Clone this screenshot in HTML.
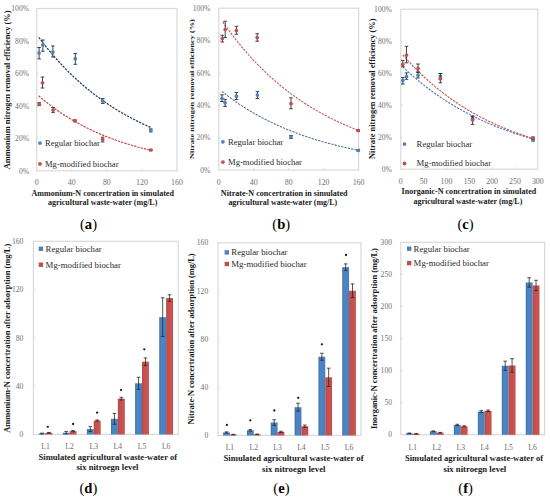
<!DOCTYPE html>
<html><head><meta charset="utf-8"><style>
html,body{margin:0;padding:0;background:#fff;width:550px;height:500px;overflow:hidden}
svg{display:block;font-family:"Liberation Serif", serif}
</style></head><body>
<svg width="550" height="500" viewBox="0 0 550 500">
<defs>
<linearGradient id="gb" x1="0" x2="1" y1="0" y2="0"><stop offset="0" stop-color="#3F6E9E"/><stop offset="0.25" stop-color="#4985C4"/><stop offset="0.75" stop-color="#4D83C2"/><stop offset="1" stop-color="#4A7CB8"/></linearGradient>
<linearGradient id="gr" x1="0" x2="1" y1="0" y2="0"><stop offset="0" stop-color="#B04846"/><stop offset="0.25" stop-color="#C4504D"/><stop offset="0.8" stop-color="#CC5350"/><stop offset="1" stop-color="#B84A48"/></linearGradient>
</defs>
<rect width="550" height="500" fill="#fff"/>
<rect x="36.70" y="8.50" width="140.30" height="162.30" fill="none" stroke="#D9D9D9" stroke-width="1.2"/>
<text x="29.00" y="173.50" font-size="7.6" text-anchor="end" font-weight="normal" fill="#6f6f6f">0%</text>
<text x="29.00" y="141.04" font-size="7.6" text-anchor="end" font-weight="normal" fill="#6f6f6f">20%</text>
<line x1="36.70" y1="138.34" x2="38.70" y2="138.34" stroke="#D9D9D9" stroke-width="0.8"/>
<text x="29.00" y="108.58" font-size="7.6" text-anchor="end" font-weight="normal" fill="#6f6f6f">40%</text>
<line x1="36.70" y1="105.88" x2="38.70" y2="105.88" stroke="#D9D9D9" stroke-width="0.8"/>
<text x="29.00" y="76.12" font-size="7.6" text-anchor="end" font-weight="normal" fill="#6f6f6f">60%</text>
<line x1="36.70" y1="73.42" x2="38.70" y2="73.42" stroke="#D9D9D9" stroke-width="0.8"/>
<text x="29.00" y="43.66" font-size="7.6" text-anchor="end" font-weight="normal" fill="#6f6f6f">80%</text>
<line x1="36.70" y1="40.96" x2="38.70" y2="40.96" stroke="#D9D9D9" stroke-width="0.8"/>
<text x="29.00" y="11.20" font-size="7.6" text-anchor="end" font-weight="normal" fill="#6f6f6f">100%</text>
<text x="36.70" y="184.60" font-size="7.9" text-anchor="middle" font-weight="normal" fill="#6f6f6f">0</text>
<text x="71.78" y="184.60" font-size="7.9" text-anchor="middle" font-weight="normal" fill="#6f6f6f">40</text>
<line x1="71.78" y1="170.80" x2="71.78" y2="168.80" stroke="#D9D9D9" stroke-width="0.8"/>
<text x="106.85" y="184.60" font-size="7.9" text-anchor="middle" font-weight="normal" fill="#6f6f6f">80</text>
<line x1="106.85" y1="170.80" x2="106.85" y2="168.80" stroke="#D9D9D9" stroke-width="0.8"/>
<text x="141.93" y="184.60" font-size="7.9" text-anchor="middle" font-weight="normal" fill="#6f6f6f">120</text>
<line x1="141.93" y1="170.80" x2="141.93" y2="168.80" stroke="#D9D9D9" stroke-width="0.8"/>
<text x="177.00" y="184.60" font-size="7.9" text-anchor="middle" font-weight="normal" fill="#6f6f6f">160</text>
<text transform="translate(10.20,89.90) rotate(-90)" x="0" y="0" font-size="8.4" text-anchor="middle" font-weight="bold" fill="#1a1a1a" textLength="158.7" lengthAdjust="spacingAndGlyphs">Ammonium nitrogen removal efficiency (%)</text>
<text x="102.70" y="195.70" font-size="7.9" text-anchor="middle" font-weight="bold" fill="#1a1a1a" textLength="142.4" lengthAdjust="spacingAndGlyphs">Ammonium-N concertration in simulated</text>
<text x="102.70" y="204.90" font-size="7.9" text-anchor="middle" font-weight="bold" fill="#1a1a1a" textLength="109.3" lengthAdjust="spacingAndGlyphs">agricultural waste-water (mg/L)</text>
<polyline points="38.80,37.38 40.67,39.86 42.53,42.29 44.40,44.67 46.27,47.02 48.13,49.31 50.00,51.57 51.87,53.78 53.73,55.95 55.60,58.08 57.47,60.18 59.33,62.23 61.20,64.24 63.07,66.22 64.93,68.16 66.80,70.07 68.67,71.94 70.53,73.77 72.40,75.57 74.27,77.34 76.13,79.07 78.00,80.78 79.87,82.45 81.73,84.09 83.60,85.70 85.47,87.27 87.33,88.83 89.20,90.35 91.07,91.84 92.93,93.30 94.80,94.74 96.67,96.15 98.53,97.54 100.40,98.90 102.27,100.23 104.13,101.54 106.00,102.83 107.87,104.09 109.73,105.33 111.60,106.54 113.47,107.74 115.33,108.91 117.20,110.06 119.07,111.18 120.93,112.29 122.80,113.37 124.67,114.44 126.53,115.49 128.40,116.51 130.27,117.52 132.13,118.51 134.00,119.48 135.87,120.43 137.73,121.37 139.60,122.28 141.47,123.18 143.33,124.07 145.20,124.94 147.07,125.79 148.93,126.62 150.80,127.44" fill="none" stroke="#1F3F6E" stroke-width="1.25" stroke-dasharray="2.3 1.1"/>
<polyline points="38.60,95.72 40.47,97.33 42.34,98.90 44.21,100.44 46.08,101.95 47.95,103.42 49.82,104.87 51.69,106.28 53.56,107.67 55.43,109.02 57.30,110.34 59.17,111.64 61.04,112.91 62.91,114.15 64.78,115.36 66.65,116.55 68.52,117.71 70.39,118.85 72.26,119.96 74.13,121.05 76.00,122.12 77.87,123.16 79.74,124.18 81.61,125.18 83.48,126.16 85.35,127.12 87.22,128.05 89.09,128.97 90.96,129.87 92.83,130.74 94.70,131.60 96.57,132.44 98.44,133.27 100.31,134.07 102.18,134.86 104.05,135.63 105.92,136.38 107.79,137.12 109.66,137.84 111.53,138.55 113.40,139.24 115.27,139.92 117.14,140.58 119.01,141.22 120.88,141.86 122.75,142.48 124.62,143.09 126.49,143.68 128.36,144.26 130.23,144.83 132.10,145.39 133.97,145.93 135.84,146.46 137.71,146.99 139.58,147.50 141.45,148.00 143.32,148.48 145.19,148.96 147.06,149.43 148.93,149.89 150.80,150.34" fill="none" stroke="#C0504D" stroke-width="1.25" stroke-dasharray="2.3 1.1"/>
<line x1="39.10" y1="47.50" x2="39.10" y2="58.90" stroke="#383838" stroke-width="0.95"/>
<line x1="37.30" y1="47.50" x2="40.90" y2="47.50" stroke="#383838" stroke-width="0.95"/>
<line x1="37.30" y1="58.90" x2="40.90" y2="58.90" stroke="#383838" stroke-width="0.95"/>
<line x1="42.80" y1="40.00" x2="42.80" y2="51.20" stroke="#383838" stroke-width="0.95"/>
<line x1="41.00" y1="40.00" x2="44.60" y2="40.00" stroke="#383838" stroke-width="0.95"/>
<line x1="41.00" y1="51.20" x2="44.60" y2="51.20" stroke="#383838" stroke-width="0.95"/>
<line x1="52.90" y1="46.00" x2="52.90" y2="57.00" stroke="#383838" stroke-width="0.95"/>
<line x1="51.10" y1="46.00" x2="54.70" y2="46.00" stroke="#383838" stroke-width="0.95"/>
<line x1="51.10" y1="57.00" x2="54.70" y2="57.00" stroke="#383838" stroke-width="0.95"/>
<line x1="75.30" y1="53.60" x2="75.30" y2="64.30" stroke="#383838" stroke-width="0.95"/>
<line x1="73.50" y1="53.60" x2="77.10" y2="53.60" stroke="#383838" stroke-width="0.95"/>
<line x1="73.50" y1="64.30" x2="77.10" y2="64.30" stroke="#383838" stroke-width="0.95"/>
<line x1="102.70" y1="98.60" x2="102.70" y2="103.40" stroke="#383838" stroke-width="0.95"/>
<line x1="100.90" y1="98.60" x2="104.50" y2="98.60" stroke="#383838" stroke-width="0.95"/>
<line x1="100.90" y1="103.40" x2="104.50" y2="103.40" stroke="#383838" stroke-width="0.95"/>
<line x1="150.80" y1="128.90" x2="150.80" y2="131.90" stroke="#383838" stroke-width="0.95"/>
<line x1="149.00" y1="128.90" x2="152.60" y2="128.90" stroke="#383838" stroke-width="0.95"/>
<line x1="149.00" y1="131.90" x2="152.60" y2="131.90" stroke="#383838" stroke-width="0.95"/>
<circle cx="39.10" cy="53.10" r="1.85" fill="#4F81BD"/>
<circle cx="42.80" cy="45.10" r="1.85" fill="#4F81BD"/>
<circle cx="52.90" cy="52.00" r="1.85" fill="#4F81BD"/>
<circle cx="75.30" cy="58.70" r="1.85" fill="#4F81BD"/>
<circle cx="102.70" cy="101.00" r="1.85" fill="#4F81BD"/>
<circle cx="150.80" cy="130.40" r="1.85" fill="#4F81BD"/>
<line x1="39.20" y1="102.60" x2="39.20" y2="105.60" stroke="#383838" stroke-width="0.95"/>
<line x1="37.40" y1="102.60" x2="41.00" y2="102.60" stroke="#383838" stroke-width="0.95"/>
<line x1="37.40" y1="105.60" x2="41.00" y2="105.60" stroke="#383838" stroke-width="0.95"/>
<line x1="42.50" y1="77.00" x2="42.50" y2="88.00" stroke="#383838" stroke-width="0.95"/>
<line x1="40.70" y1="77.00" x2="44.30" y2="77.00" stroke="#383838" stroke-width="0.95"/>
<line x1="40.70" y1="88.00" x2="44.30" y2="88.00" stroke="#383838" stroke-width="0.95"/>
<line x1="53.10" y1="107.50" x2="53.10" y2="112.40" stroke="#383838" stroke-width="0.95"/>
<line x1="51.30" y1="107.50" x2="54.90" y2="107.50" stroke="#383838" stroke-width="0.95"/>
<line x1="51.30" y1="112.40" x2="54.90" y2="112.40" stroke="#383838" stroke-width="0.95"/>
<line x1="75.00" y1="119.90" x2="75.00" y2="121.70" stroke="#383838" stroke-width="0.95"/>
<line x1="73.20" y1="119.90" x2="76.80" y2="119.90" stroke="#383838" stroke-width="0.95"/>
<line x1="73.20" y1="121.70" x2="76.80" y2="121.70" stroke="#383838" stroke-width="0.95"/>
<line x1="102.70" y1="137.20" x2="102.70" y2="142.00" stroke="#383838" stroke-width="0.95"/>
<line x1="100.90" y1="137.20" x2="104.50" y2="137.20" stroke="#383838" stroke-width="0.95"/>
<line x1="100.90" y1="142.00" x2="104.50" y2="142.00" stroke="#383838" stroke-width="0.95"/>
<line x1="150.80" y1="149.40" x2="150.80" y2="150.60" stroke="#383838" stroke-width="0.95"/>
<line x1="149.00" y1="149.40" x2="152.60" y2="149.40" stroke="#383838" stroke-width="0.95"/>
<line x1="149.00" y1="150.60" x2="152.60" y2="150.60" stroke="#383838" stroke-width="0.95"/>
<circle cx="39.20" cy="104.10" r="1.85" fill="#C0504D"/>
<circle cx="42.50" cy="82.80" r="1.85" fill="#C0504D"/>
<circle cx="53.10" cy="110.00" r="1.85" fill="#C0504D"/>
<circle cx="75.00" cy="120.80" r="1.85" fill="#C0504D"/>
<circle cx="102.70" cy="139.60" r="1.85" fill="#C0504D"/>
<circle cx="150.80" cy="150.00" r="1.85" fill="#C0504D"/>
<circle cx="40.00" cy="143.10" r="1.9" fill="#4F81BD"/>
<circle cx="40.00" cy="163.90" r="1.9" fill="#C0504D"/>
<text x="45.00" y="146.00" font-size="8.6" text-anchor="start" font-weight="normal" fill="#2a2a2a" textLength="54.8" lengthAdjust="spacingAndGlyphs">Regular biochar</text>
<text x="45.00" y="166.80" font-size="8.6" text-anchor="start" font-weight="normal" fill="#2a2a2a" textLength="73.5" lengthAdjust="spacingAndGlyphs">Mg-modified biochar</text>
<text x="88.50" y="228.70" font-size="14.6" text-anchor="middle" fill="#000">(<tspan font-weight="bold">a</tspan>)</text>
<rect x="218.80" y="8.20" width="139.80" height="161.80" fill="none" stroke="#D9D9D9" stroke-width="1.2"/>
<text x="210.40" y="172.70" font-size="7.6" text-anchor="end" font-weight="normal" fill="#6f6f6f">0%</text>
<text x="210.40" y="140.34" font-size="7.6" text-anchor="end" font-weight="normal" fill="#6f6f6f">20%</text>
<line x1="218.80" y1="137.64" x2="220.80" y2="137.64" stroke="#D9D9D9" stroke-width="0.8"/>
<text x="210.40" y="107.98" font-size="7.6" text-anchor="end" font-weight="normal" fill="#6f6f6f">40%</text>
<line x1="218.80" y1="105.28" x2="220.80" y2="105.28" stroke="#D9D9D9" stroke-width="0.8"/>
<text x="210.40" y="75.62" font-size="7.6" text-anchor="end" font-weight="normal" fill="#6f6f6f">60%</text>
<line x1="218.80" y1="72.92" x2="220.80" y2="72.92" stroke="#D9D9D9" stroke-width="0.8"/>
<text x="210.40" y="43.26" font-size="7.6" text-anchor="end" font-weight="normal" fill="#6f6f6f">80%</text>
<line x1="218.80" y1="40.56" x2="220.80" y2="40.56" stroke="#D9D9D9" stroke-width="0.8"/>
<text x="210.40" y="10.90" font-size="7.6" text-anchor="end" font-weight="normal" fill="#6f6f6f">100%</text>
<text x="218.80" y="184.60" font-size="7.9" text-anchor="middle" font-weight="normal" fill="#6f6f6f">0</text>
<text x="253.75" y="184.60" font-size="7.9" text-anchor="middle" font-weight="normal" fill="#6f6f6f">40</text>
<line x1="253.75" y1="170.00" x2="253.75" y2="168.00" stroke="#D9D9D9" stroke-width="0.8"/>
<text x="288.70" y="184.60" font-size="7.9" text-anchor="middle" font-weight="normal" fill="#6f6f6f">80</text>
<line x1="288.70" y1="170.00" x2="288.70" y2="168.00" stroke="#D9D9D9" stroke-width="0.8"/>
<text x="323.65" y="184.60" font-size="7.9" text-anchor="middle" font-weight="normal" fill="#6f6f6f">120</text>
<line x1="323.65" y1="170.00" x2="323.65" y2="168.00" stroke="#D9D9D9" stroke-width="0.8"/>
<text x="358.60" y="184.60" font-size="7.9" text-anchor="middle" font-weight="normal" fill="#6f6f6f">160</text>
<text transform="translate(193.70,89.10) rotate(-90)" x="0" y="0" font-size="6.7" text-anchor="middle" font-weight="bold" fill="#1a1a1a" textLength="140.0" lengthAdjust="spacingAndGlyphs">Nitrate nitrogen removal efficiency (%)</text>
<text x="284.20" y="195.60" font-size="7.9" text-anchor="middle" font-weight="bold" fill="#1a1a1a" textLength="126.7" lengthAdjust="spacingAndGlyphs">Nitrate-N concertration in simulated</text>
<text x="282.80" y="205.00" font-size="7.9" text-anchor="middle" font-weight="bold" fill="#1a1a1a" textLength="108.8" lengthAdjust="spacingAndGlyphs">agricultural waste-water (mg/L)</text>
<polyline points="221.80,91.37 224.07,93.16 226.35,94.91 228.62,96.62 230.89,98.29 233.17,99.92 235.44,101.51 237.71,103.07 239.99,104.60 242.26,106.09 244.53,107.54 246.81,108.96 249.08,110.35 251.35,111.71 253.63,113.04 255.90,114.33 258.17,115.60 260.45,116.84 262.72,118.05 264.99,119.23 267.27,120.39 269.54,121.52 271.81,122.62 274.09,123.70 276.36,124.75 278.63,125.78 280.91,126.79 283.18,127.77 285.45,128.73 287.73,129.67 290.00,130.59 292.27,131.49 294.55,132.36 296.82,133.22 299.09,134.06 301.37,134.88 303.64,135.68 305.91,136.46 308.19,137.22 310.46,137.97 312.73,138.70 315.01,139.41 317.28,140.11 319.55,140.79 321.83,141.45 324.10,142.10 326.37,142.74 328.65,143.36 330.92,143.96 333.19,144.56 335.47,145.13 337.74,145.70 340.01,146.25 342.29,146.79 344.56,147.32 346.83,147.84 349.11,148.34 351.38,148.84 353.65,149.32 355.93,149.79 358.20,150.25" fill="none" stroke="#54739A" stroke-width="1.1" stroke-dasharray="2.3 1.1"/>
<polyline points="222.80,21.93 225.06,25.14 227.31,28.29 229.57,31.36 231.83,34.37 234.08,37.32 236.34,40.20 238.60,43.02 240.85,45.78 243.11,48.47 245.37,51.11 247.62,53.69 249.88,56.22 252.14,58.69 254.39,61.11 256.65,63.47 258.91,65.78 261.16,68.05 263.42,70.26 265.68,72.43 267.93,74.55 270.19,76.62 272.45,78.65 274.70,80.63 276.96,82.57 279.22,84.47 281.47,86.33 283.73,88.14 285.99,89.92 288.24,91.66 290.50,93.36 292.76,95.02 295.01,96.65 297.27,98.24 299.53,99.80 301.78,101.33 304.04,102.82 306.30,104.28 308.55,105.70 310.81,107.10 313.07,108.47 315.32,109.80 317.58,111.11 319.84,112.39 322.09,113.64 324.35,114.86 326.61,116.06 328.86,117.23 331.12,118.38 333.38,119.50 335.63,120.59 337.89,121.67 340.15,122.72 342.40,123.74 344.66,124.75 346.92,125.73 349.17,126.69 351.43,127.63 353.69,128.55 355.94,129.45 358.20,130.33" fill="none" stroke="#C05A5A" stroke-width="1.1" stroke-dasharray="2.3 1.1"/>
<line x1="222.00" y1="94.80" x2="222.00" y2="101.50" stroke="#383838" stroke-width="0.95"/>
<line x1="220.20" y1="94.80" x2="223.80" y2="94.80" stroke="#383838" stroke-width="0.95"/>
<line x1="220.20" y1="101.50" x2="223.80" y2="101.50" stroke="#383838" stroke-width="0.95"/>
<line x1="225.10" y1="99.30" x2="225.10" y2="106.40" stroke="#383838" stroke-width="0.95"/>
<line x1="223.30" y1="99.30" x2="226.90" y2="99.30" stroke="#383838" stroke-width="0.95"/>
<line x1="223.30" y1="106.40" x2="226.90" y2="106.40" stroke="#383838" stroke-width="0.95"/>
<line x1="236.40" y1="92.50" x2="236.40" y2="99.50" stroke="#383838" stroke-width="0.95"/>
<line x1="234.60" y1="92.50" x2="238.20" y2="92.50" stroke="#383838" stroke-width="0.95"/>
<line x1="234.60" y1="99.50" x2="238.20" y2="99.50" stroke="#383838" stroke-width="0.95"/>
<line x1="257.40" y1="91.60" x2="257.40" y2="98.50" stroke="#383838" stroke-width="0.95"/>
<line x1="255.60" y1="91.60" x2="259.20" y2="91.60" stroke="#383838" stroke-width="0.95"/>
<line x1="255.60" y1="98.50" x2="259.20" y2="98.50" stroke="#383838" stroke-width="0.95"/>
<line x1="291.00" y1="135.50" x2="291.00" y2="138.50" stroke="#383838" stroke-width="0.95"/>
<line x1="289.20" y1="135.50" x2="292.80" y2="135.50" stroke="#383838" stroke-width="0.95"/>
<line x1="289.20" y1="138.50" x2="292.80" y2="138.50" stroke="#383838" stroke-width="0.95"/>
<line x1="358.20" y1="149.60" x2="358.20" y2="151.00" stroke="#383838" stroke-width="0.95"/>
<line x1="356.40" y1="149.60" x2="360.00" y2="149.60" stroke="#383838" stroke-width="0.95"/>
<line x1="356.40" y1="151.00" x2="360.00" y2="151.00" stroke="#383838" stroke-width="0.95"/>
<circle cx="222.00" cy="98.50" r="1.85" fill="#4F81BD"/>
<circle cx="225.10" cy="102.80" r="1.85" fill="#4F81BD"/>
<circle cx="236.40" cy="96.20" r="1.85" fill="#4F81BD"/>
<circle cx="257.40" cy="95.10" r="1.85" fill="#4F81BD"/>
<circle cx="291.00" cy="137.00" r="1.85" fill="#4F81BD"/>
<circle cx="358.20" cy="150.30" r="1.85" fill="#4F81BD"/>
<line x1="222.30" y1="35.30" x2="222.30" y2="42.00" stroke="#383838" stroke-width="0.95"/>
<line x1="220.50" y1="35.30" x2="224.10" y2="35.30" stroke="#383838" stroke-width="0.95"/>
<line x1="220.50" y1="42.00" x2="224.10" y2="42.00" stroke="#383838" stroke-width="0.95"/>
<line x1="225.20" y1="21.20" x2="225.20" y2="37.50" stroke="#383838" stroke-width="0.95"/>
<line x1="223.40" y1="21.20" x2="227.00" y2="21.20" stroke="#383838" stroke-width="0.95"/>
<line x1="223.40" y1="37.50" x2="227.00" y2="37.50" stroke="#383838" stroke-width="0.95"/>
<line x1="236.40" y1="26.30" x2="236.40" y2="34.30" stroke="#383838" stroke-width="0.95"/>
<line x1="234.60" y1="26.30" x2="238.20" y2="26.30" stroke="#383838" stroke-width="0.95"/>
<line x1="234.60" y1="34.30" x2="238.20" y2="34.30" stroke="#383838" stroke-width="0.95"/>
<line x1="257.20" y1="33.70" x2="257.20" y2="41.20" stroke="#383838" stroke-width="0.95"/>
<line x1="255.40" y1="33.70" x2="259.00" y2="33.70" stroke="#383838" stroke-width="0.95"/>
<line x1="255.40" y1="41.20" x2="259.00" y2="41.20" stroke="#383838" stroke-width="0.95"/>
<line x1="291.00" y1="97.90" x2="291.00" y2="108.70" stroke="#383838" stroke-width="0.95"/>
<line x1="289.20" y1="97.90" x2="292.80" y2="97.90" stroke="#383838" stroke-width="0.95"/>
<line x1="289.20" y1="108.70" x2="292.80" y2="108.70" stroke="#383838" stroke-width="0.95"/>
<line x1="358.20" y1="129.80" x2="358.20" y2="131.40" stroke="#383838" stroke-width="0.95"/>
<line x1="356.40" y1="129.80" x2="360.00" y2="129.80" stroke="#383838" stroke-width="0.95"/>
<line x1="356.40" y1="131.40" x2="360.00" y2="131.40" stroke="#383838" stroke-width="0.95"/>
<circle cx="222.30" cy="38.50" r="1.85" fill="#C0504D"/>
<circle cx="225.20" cy="29.50" r="1.85" fill="#C0504D"/>
<circle cx="236.40" cy="30.50" r="1.85" fill="#C0504D"/>
<circle cx="257.20" cy="37.50" r="1.85" fill="#C0504D"/>
<circle cx="291.00" cy="103.70" r="1.85" fill="#C0504D"/>
<circle cx="358.20" cy="130.60" r="1.85" fill="#C0504D"/>
<circle cx="222.90" cy="141.80" r="1.9" fill="#4F81BD"/>
<circle cx="222.90" cy="162.10" r="1.9" fill="#C0504D"/>
<text x="228.00" y="144.70" font-size="8.6" text-anchor="start" font-weight="normal" fill="#2a2a2a" textLength="55.2" lengthAdjust="spacingAndGlyphs">Regular biochar</text>
<text x="228.00" y="165.00" font-size="8.6" text-anchor="start" font-weight="normal" fill="#2a2a2a" textLength="74.0" lengthAdjust="spacingAndGlyphs">Mg-modified biochar</text>
<text x="281.30" y="229.00" font-size="14.6" text-anchor="middle" fill="#000">(<tspan font-weight="bold">b</tspan>)</text>
<rect x="400.80" y="9.20" width="137.00" height="160.00" fill="none" stroke="#D9D9D9" stroke-width="1.2"/>
<text x="391.80" y="171.90" font-size="7.6" text-anchor="end" font-weight="normal" fill="#6f6f6f">0%</text>
<text x="391.80" y="139.90" font-size="7.6" text-anchor="end" font-weight="normal" fill="#6f6f6f">20%</text>
<line x1="400.80" y1="137.20" x2="402.80" y2="137.20" stroke="#D9D9D9" stroke-width="0.8"/>
<text x="391.80" y="107.90" font-size="7.6" text-anchor="end" font-weight="normal" fill="#6f6f6f">40%</text>
<line x1="400.80" y1="105.20" x2="402.80" y2="105.20" stroke="#D9D9D9" stroke-width="0.8"/>
<text x="391.80" y="75.90" font-size="7.6" text-anchor="end" font-weight="normal" fill="#6f6f6f">60%</text>
<line x1="400.80" y1="73.20" x2="402.80" y2="73.20" stroke="#D9D9D9" stroke-width="0.8"/>
<text x="391.80" y="43.90" font-size="7.6" text-anchor="end" font-weight="normal" fill="#6f6f6f">80%</text>
<line x1="400.80" y1="41.20" x2="402.80" y2="41.20" stroke="#D9D9D9" stroke-width="0.8"/>
<text x="391.80" y="11.90" font-size="7.6" text-anchor="end" font-weight="normal" fill="#6f6f6f">100%</text>
<text x="400.80" y="183.80" font-size="7.9" text-anchor="middle" font-weight="normal" fill="#6f6f6f">0</text>
<text x="423.63" y="183.80" font-size="7.9" text-anchor="middle" font-weight="normal" fill="#6f6f6f">50</text>
<line x1="423.63" y1="169.20" x2="423.63" y2="167.20" stroke="#D9D9D9" stroke-width="0.8"/>
<text x="446.47" y="183.80" font-size="7.9" text-anchor="middle" font-weight="normal" fill="#6f6f6f">100</text>
<line x1="446.47" y1="169.20" x2="446.47" y2="167.20" stroke="#D9D9D9" stroke-width="0.8"/>
<text x="469.30" y="183.80" font-size="7.9" text-anchor="middle" font-weight="normal" fill="#6f6f6f">150</text>
<line x1="469.30" y1="169.20" x2="469.30" y2="167.20" stroke="#D9D9D9" stroke-width="0.8"/>
<text x="492.13" y="183.80" font-size="7.9" text-anchor="middle" font-weight="normal" fill="#6f6f6f">200</text>
<line x1="492.13" y1="169.20" x2="492.13" y2="167.20" stroke="#D9D9D9" stroke-width="0.8"/>
<text x="514.97" y="183.80" font-size="7.9" text-anchor="middle" font-weight="normal" fill="#6f6f6f">250</text>
<line x1="514.97" y1="169.20" x2="514.97" y2="167.20" stroke="#D9D9D9" stroke-width="0.8"/>
<text x="537.80" y="183.80" font-size="7.9" text-anchor="middle" font-weight="normal" fill="#6f6f6f">300</text>
<text transform="translate(374.50,88.80) rotate(-90)" x="0" y="0" font-size="8.4" text-anchor="middle" font-weight="bold" fill="#1a1a1a" textLength="140.4" lengthAdjust="spacingAndGlyphs">Nitrate nitrogen removal efficiency (%)</text>
<text x="468.90" y="194.20" font-size="7.9" text-anchor="middle" font-weight="bold" fill="#1a1a1a" textLength="134.7" lengthAdjust="spacingAndGlyphs">Inorganic-N concertration in simulated</text>
<text x="467.90" y="203.70" font-size="7.9" text-anchor="middle" font-weight="bold" fill="#1a1a1a" textLength="108.8" lengthAdjust="spacingAndGlyphs">agricultural waste-water (mg/L)</text>
<polyline points="402.80,66.79 404.97,68.85 407.14,70.87 409.31,72.85 411.48,74.79 413.65,76.69 415.82,78.56 417.99,80.38 420.16,82.17 422.33,83.92 424.50,85.64 426.67,87.32 428.84,88.97 431.01,90.58 433.18,92.17 435.35,93.72 437.52,95.24 439.69,96.73 441.86,98.18 444.03,99.61 446.20,101.02 448.37,102.39 450.54,103.73 452.71,105.05 454.88,106.34 457.05,107.61 459.22,108.85 461.39,110.06 463.56,111.25 465.73,112.42 467.90,113.56 470.07,114.68 472.24,115.78 474.41,116.86 476.58,117.91 478.75,118.94 480.92,119.95 483.09,120.95 485.26,121.92 487.43,122.87 489.60,123.80 491.77,124.72 493.94,125.61 496.11,126.49 498.28,127.35 500.45,128.19 502.62,129.02 504.79,129.83 506.96,130.62 509.13,131.40 511.30,132.16 513.47,132.90 515.64,133.63 517.81,134.35 519.98,135.05 522.15,135.74 524.32,136.41 526.49,137.07 528.66,137.72 530.83,138.35 533.00,138.97" fill="none" stroke="#5580B8" stroke-width="1.15" stroke-dasharray="2.3 1.1"/>
<polyline points="402.80,54.79 404.97,57.27 407.14,59.69 409.31,62.07 411.48,64.39 413.65,66.66 415.82,68.88 417.99,71.05 420.16,73.18 422.33,75.26 424.50,77.30 426.67,79.29 428.84,81.24 431.01,83.14 433.18,85.01 435.35,86.83 437.52,88.62 439.69,90.36 441.86,92.07 444.03,93.74 446.20,95.38 448.37,96.98 450.54,98.54 452.71,100.07 454.88,101.57 457.05,103.04 459.22,104.47 461.39,105.87 463.56,107.24 465.73,108.59 467.90,109.90 470.07,111.18 472.24,112.44 474.41,113.67 476.58,114.87 478.75,116.05 480.92,117.20 483.09,118.33 485.26,119.43 487.43,120.51 489.60,121.57 491.77,122.60 493.94,123.61 496.11,124.60 498.28,125.56 500.45,126.51 502.62,127.43 504.79,128.34 506.96,129.22 509.13,130.09 511.30,130.94 513.47,131.77 515.64,132.58 517.81,133.37 519.98,134.15 522.15,134.91 524.32,135.65 526.49,136.38 528.66,137.09 530.83,137.78 533.00,138.46" fill="none" stroke="#C45858" stroke-width="1.15" stroke-dasharray="2.3 1.1"/>
<line x1="402.80" y1="77.50" x2="402.80" y2="84.00" stroke="#383838" stroke-width="0.95"/>
<line x1="401.00" y1="77.50" x2="404.60" y2="77.50" stroke="#383838" stroke-width="0.95"/>
<line x1="401.00" y1="84.00" x2="404.60" y2="84.00" stroke="#383838" stroke-width="0.95"/>
<line x1="406.50" y1="72.90" x2="406.50" y2="79.30" stroke="#383838" stroke-width="0.95"/>
<line x1="404.70" y1="72.90" x2="408.30" y2="72.90" stroke="#383838" stroke-width="0.95"/>
<line x1="404.70" y1="79.30" x2="408.30" y2="79.30" stroke="#383838" stroke-width="0.95"/>
<line x1="418.00" y1="72.40" x2="418.00" y2="78.00" stroke="#383838" stroke-width="0.95"/>
<line x1="416.20" y1="72.40" x2="419.80" y2="72.40" stroke="#383838" stroke-width="0.95"/>
<line x1="416.20" y1="78.00" x2="419.80" y2="78.00" stroke="#383838" stroke-width="0.95"/>
<line x1="440.40" y1="73.50" x2="440.40" y2="79.00" stroke="#383838" stroke-width="0.95"/>
<line x1="438.60" y1="73.50" x2="442.20" y2="73.50" stroke="#383838" stroke-width="0.95"/>
<line x1="438.60" y1="79.00" x2="442.20" y2="79.00" stroke="#383838" stroke-width="0.95"/>
<line x1="472.60" y1="116.50" x2="472.60" y2="119.50" stroke="#383838" stroke-width="0.95"/>
<line x1="470.80" y1="116.50" x2="474.40" y2="116.50" stroke="#383838" stroke-width="0.95"/>
<line x1="470.80" y1="119.50" x2="474.40" y2="119.50" stroke="#383838" stroke-width="0.95"/>
<line x1="533.00" y1="139.00" x2="533.00" y2="141.00" stroke="#383838" stroke-width="0.95"/>
<line x1="531.20" y1="139.00" x2="534.80" y2="139.00" stroke="#383838" stroke-width="0.95"/>
<line x1="531.20" y1="141.00" x2="534.80" y2="141.00" stroke="#383838" stroke-width="0.95"/>
<circle cx="402.80" cy="80.40" r="1.85" fill="#4F81BD"/>
<circle cx="406.50" cy="76.40" r="1.85" fill="#4F81BD"/>
<circle cx="418.00" cy="75.30" r="1.85" fill="#4F81BD"/>
<circle cx="440.40" cy="76.40" r="1.85" fill="#4F81BD"/>
<circle cx="472.60" cy="118.00" r="1.85" fill="#4F81BD"/>
<circle cx="533.00" cy="140.00" r="1.85" fill="#4F81BD"/>
<line x1="402.80" y1="60.40" x2="402.80" y2="66.80" stroke="#383838" stroke-width="0.95"/>
<line x1="401.00" y1="60.40" x2="404.60" y2="60.40" stroke="#383838" stroke-width="0.95"/>
<line x1="401.00" y1="66.80" x2="404.60" y2="66.80" stroke="#383838" stroke-width="0.95"/>
<line x1="406.50" y1="46.30" x2="406.50" y2="62.80" stroke="#383838" stroke-width="0.95"/>
<line x1="404.70" y1="46.30" x2="408.30" y2="46.30" stroke="#383838" stroke-width="0.95"/>
<line x1="404.70" y1="62.80" x2="408.30" y2="62.80" stroke="#383838" stroke-width="0.95"/>
<line x1="418.00" y1="64.00" x2="418.00" y2="72.00" stroke="#383838" stroke-width="0.95"/>
<line x1="416.20" y1="64.00" x2="419.80" y2="64.00" stroke="#383838" stroke-width="0.95"/>
<line x1="416.20" y1="72.00" x2="419.80" y2="72.00" stroke="#383838" stroke-width="0.95"/>
<line x1="440.40" y1="73.50" x2="440.40" y2="82.80" stroke="#383838" stroke-width="0.95"/>
<line x1="438.60" y1="73.50" x2="442.20" y2="73.50" stroke="#383838" stroke-width="0.95"/>
<line x1="438.60" y1="82.80" x2="442.20" y2="82.80" stroke="#383838" stroke-width="0.95"/>
<line x1="472.60" y1="116.00" x2="472.60" y2="124.40" stroke="#383838" stroke-width="0.95"/>
<line x1="470.80" y1="116.00" x2="474.40" y2="116.00" stroke="#383838" stroke-width="0.95"/>
<line x1="470.80" y1="124.40" x2="474.40" y2="124.40" stroke="#383838" stroke-width="0.95"/>
<line x1="533.00" y1="137.00" x2="533.00" y2="139.00" stroke="#383838" stroke-width="0.95"/>
<line x1="531.20" y1="137.00" x2="534.80" y2="137.00" stroke="#383838" stroke-width="0.95"/>
<line x1="531.20" y1="139.00" x2="534.80" y2="139.00" stroke="#383838" stroke-width="0.95"/>
<circle cx="402.80" cy="64.40" r="1.85" fill="#C0504D"/>
<circle cx="406.50" cy="55.10" r="1.85" fill="#C0504D"/>
<circle cx="418.00" cy="68.40" r="1.85" fill="#C0504D"/>
<circle cx="440.40" cy="78.80" r="1.85" fill="#C0504D"/>
<circle cx="472.60" cy="120.00" r="1.85" fill="#C0504D"/>
<circle cx="533.00" cy="138.00" r="1.85" fill="#C0504D"/>
<circle cx="404.50" cy="144.10" r="1.9" fill="#4F81BD"/>
<circle cx="404.50" cy="163.50" r="1.9" fill="#C0504D"/>
<text x="416.60" y="147.00" font-size="8.6" text-anchor="start" font-weight="normal" fill="#2a2a2a" textLength="55.6" lengthAdjust="spacingAndGlyphs">Regular biochar</text>
<text x="416.60" y="166.40" font-size="8.6" text-anchor="start" font-weight="normal" fill="#2a2a2a" textLength="74.5" lengthAdjust="spacingAndGlyphs">Mg-modified biochar</text>
<text x="465.50" y="229.00" font-size="14.6" text-anchor="middle" fill="#000">(<tspan font-weight="bold">c</tspan>)</text>
<rect x="33.40" y="241.30" width="144.80" height="193.20" fill="none" stroke="#D9D9D9" stroke-width="1.2"/>
<text x="23.40" y="437.10" font-size="7.6" text-anchor="end" font-weight="normal" fill="#6f6f6f">0</text>
<text x="23.40" y="388.80" font-size="7.6" text-anchor="end" font-weight="normal" fill="#6f6f6f">40</text>
<line x1="33.40" y1="386.20" x2="35.40" y2="386.20" stroke="#D9D9D9" stroke-width="0.8"/>
<text x="23.40" y="340.50" font-size="7.6" text-anchor="end" font-weight="normal" fill="#6f6f6f">80</text>
<line x1="33.40" y1="337.90" x2="35.40" y2="337.90" stroke="#D9D9D9" stroke-width="0.8"/>
<text x="23.40" y="292.20" font-size="7.6" text-anchor="end" font-weight="normal" fill="#6f6f6f">120</text>
<line x1="33.40" y1="289.60" x2="35.40" y2="289.60" stroke="#D9D9D9" stroke-width="0.8"/>
<text x="23.40" y="243.90" font-size="7.6" text-anchor="end" font-weight="normal" fill="#6f6f6f">160</text>
<text x="45.47" y="449.10" font-size="8.6" text-anchor="middle" font-weight="normal" fill="#6f6f6f" textLength="8.5" lengthAdjust="spacingAndGlyphs">L1</text>
<rect x="38.57" y="433.53" width="6.90" height="0.97" fill="url(#gb)"/>
<rect x="45.47" y="432.81" width="6.90" height="1.69" fill="url(#gr)"/>
<line x1="42.02" y1="433.17" x2="42.02" y2="433.90" stroke="#262626" stroke-width="0.8"/>
<line x1="40.22" y1="433.17" x2="43.82" y2="433.17" stroke="#262626" stroke-width="0.8"/>
<line x1="40.22" y1="433.90" x2="43.82" y2="433.90" stroke="#262626" stroke-width="0.8"/>
<line x1="48.91" y1="432.45" x2="48.91" y2="433.17" stroke="#262626" stroke-width="0.8"/>
<line x1="47.11" y1="432.45" x2="50.71" y2="432.45" stroke="#262626" stroke-width="0.8"/>
<line x1="47.11" y1="433.17" x2="50.71" y2="433.17" stroke="#262626" stroke-width="0.8"/>
<circle cx="47.80" cy="426.80" r="1.15" fill="#1a1a1a"/>
<text x="69.60" y="449.10" font-size="8.6" text-anchor="middle" font-weight="normal" fill="#6f6f6f" textLength="8.5" lengthAdjust="spacingAndGlyphs">L2</text>
<line x1="57.53" y1="434.50" x2="57.53" y2="432.50" stroke="#D9D9D9" stroke-width="0.8"/>
<rect x="62.70" y="432.69" width="6.90" height="1.81" fill="url(#gb)"/>
<rect x="69.60" y="431.12" width="6.90" height="3.38" fill="url(#gr)"/>
<line x1="66.15" y1="431.48" x2="66.15" y2="433.90" stroke="#262626" stroke-width="0.8"/>
<line x1="64.35" y1="431.48" x2="67.95" y2="431.48" stroke="#262626" stroke-width="0.8"/>
<line x1="64.35" y1="433.90" x2="67.95" y2="433.90" stroke="#262626" stroke-width="0.8"/>
<line x1="73.05" y1="430.52" x2="73.05" y2="431.72" stroke="#262626" stroke-width="0.8"/>
<line x1="71.25" y1="430.52" x2="74.85" y2="430.52" stroke="#262626" stroke-width="0.8"/>
<line x1="71.25" y1="431.72" x2="74.85" y2="431.72" stroke="#262626" stroke-width="0.8"/>
<circle cx="73.10" cy="424.00" r="1.15" fill="#1a1a1a"/>
<text x="93.73" y="449.10" font-size="8.6" text-anchor="middle" font-weight="normal" fill="#6f6f6f" textLength="8.5" lengthAdjust="spacingAndGlyphs">L3</text>
<line x1="81.67" y1="434.50" x2="81.67" y2="432.50" stroke="#D9D9D9" stroke-width="0.8"/>
<rect x="86.84" y="429.07" width="6.90" height="5.43" fill="url(#gb)"/>
<rect x="93.73" y="420.61" width="6.90" height="13.89" fill="url(#gr)"/>
<line x1="90.29" y1="426.65" x2="90.29" y2="431.48" stroke="#262626" stroke-width="0.8"/>
<line x1="88.49" y1="426.65" x2="92.09" y2="426.65" stroke="#262626" stroke-width="0.8"/>
<line x1="88.49" y1="431.48" x2="92.09" y2="431.48" stroke="#262626" stroke-width="0.8"/>
<line x1="97.18" y1="420.01" x2="97.18" y2="421.22" stroke="#262626" stroke-width="0.8"/>
<line x1="95.38" y1="420.01" x2="98.98" y2="420.01" stroke="#262626" stroke-width="0.8"/>
<line x1="95.38" y1="421.22" x2="98.98" y2="421.22" stroke="#262626" stroke-width="0.8"/>
<circle cx="97.10" cy="412.70" r="1.15" fill="#1a1a1a"/>
<text x="117.87" y="449.10" font-size="8.6" text-anchor="middle" font-weight="normal" fill="#6f6f6f" textLength="8.5" lengthAdjust="spacingAndGlyphs">L4</text>
<line x1="105.80" y1="434.50" x2="105.80" y2="432.50" stroke="#D9D9D9" stroke-width="0.8"/>
<rect x="110.97" y="418.80" width="6.90" height="15.70" fill="url(#gb)"/>
<rect x="117.87" y="398.64" width="6.90" height="35.86" fill="url(#gr)"/>
<line x1="114.42" y1="413.37" x2="114.42" y2="424.24" stroke="#262626" stroke-width="0.8"/>
<line x1="112.62" y1="413.37" x2="116.22" y2="413.37" stroke="#262626" stroke-width="0.8"/>
<line x1="112.62" y1="424.24" x2="116.22" y2="424.24" stroke="#262626" stroke-width="0.8"/>
<line x1="121.31" y1="397.31" x2="121.31" y2="399.97" stroke="#262626" stroke-width="0.8"/>
<line x1="119.51" y1="397.31" x2="123.11" y2="397.31" stroke="#262626" stroke-width="0.8"/>
<line x1="119.51" y1="399.97" x2="123.11" y2="399.97" stroke="#262626" stroke-width="0.8"/>
<circle cx="121.00" cy="390.10" r="1.15" fill="#1a1a1a"/>
<text x="142.00" y="449.10" font-size="8.6" text-anchor="middle" font-weight="normal" fill="#6f6f6f" textLength="8.5" lengthAdjust="spacingAndGlyphs">L5</text>
<line x1="129.93" y1="434.50" x2="129.93" y2="432.50" stroke="#D9D9D9" stroke-width="0.8"/>
<rect x="135.10" y="383.30" width="6.90" height="51.20" fill="url(#gb)"/>
<rect x="142.00" y="361.69" width="6.90" height="72.81" fill="url(#gr)"/>
<line x1="138.55" y1="377.26" x2="138.55" y2="389.34" stroke="#262626" stroke-width="0.8"/>
<line x1="136.75" y1="377.26" x2="140.35" y2="377.26" stroke="#262626" stroke-width="0.8"/>
<line x1="136.75" y1="389.34" x2="140.35" y2="389.34" stroke="#262626" stroke-width="0.8"/>
<line x1="145.45" y1="357.94" x2="145.45" y2="365.43" stroke="#262626" stroke-width="0.8"/>
<line x1="143.65" y1="357.94" x2="147.25" y2="357.94" stroke="#262626" stroke-width="0.8"/>
<line x1="143.65" y1="365.43" x2="147.25" y2="365.43" stroke="#262626" stroke-width="0.8"/>
<circle cx="144.30" cy="349.30" r="1.15" fill="#1a1a1a"/>
<text x="166.13" y="449.10" font-size="8.6" text-anchor="middle" font-weight="normal" fill="#6f6f6f" textLength="8.5" lengthAdjust="spacingAndGlyphs">L6</text>
<line x1="154.07" y1="434.50" x2="154.07" y2="432.50" stroke="#D9D9D9" stroke-width="0.8"/>
<rect x="159.24" y="317.13" width="6.90" height="117.37" fill="url(#gb)"/>
<rect x="166.13" y="298.05" width="6.90" height="136.45" fill="url(#gr)"/>
<line x1="162.69" y1="297.81" x2="162.69" y2="336.45" stroke="#262626" stroke-width="0.8"/>
<line x1="160.89" y1="297.81" x2="164.49" y2="297.81" stroke="#262626" stroke-width="0.8"/>
<line x1="160.89" y1="336.45" x2="164.49" y2="336.45" stroke="#262626" stroke-width="0.8"/>
<line x1="169.58" y1="294.79" x2="169.58" y2="301.31" stroke="#262626" stroke-width="0.8"/>
<line x1="167.78" y1="294.79" x2="171.38" y2="294.79" stroke="#262626" stroke-width="0.8"/>
<line x1="167.78" y1="301.31" x2="171.38" y2="301.31" stroke="#262626" stroke-width="0.8"/>
<text transform="translate(10.20,338.30) rotate(-90)" x="0" y="0" font-size="8.4" text-anchor="middle" font-weight="bold" fill="#1a1a1a" textLength="189" lengthAdjust="spacingAndGlyphs">Ammonium-N concertration after adsorption (mg/L)</text>
<text x="107.80" y="459.70" font-size="8.6" text-anchor="middle" font-weight="bold" fill="#1a1a1a" textLength="138.6" lengthAdjust="spacingAndGlyphs">Simulated agricultural waste-water of</text>
<text x="107.50" y="470.20" font-size="8.6" text-anchor="middle" font-weight="bold" fill="#1a1a1a" textLength="62.0" lengthAdjust="spacingAndGlyphs">six nitroegn level</text>
<rect x="38.70" y="246.60" width="4.4" height="4.4" fill="#4F81BD"/>
<rect x="38.70" y="262.50" width="4.4" height="4.4" fill="#C0504D"/>
<text x="45.60" y="251.70" font-size="8.75" text-anchor="start" font-weight="normal" fill="#2a2a2a" textLength="56.2" lengthAdjust="spacingAndGlyphs">Regular biochar</text>
<text x="45.60" y="267.60" font-size="8.75" text-anchor="start" font-weight="normal" fill="#2a2a2a" textLength="75.3" lengthAdjust="spacingAndGlyphs">Mg-modified biochar</text>
<text x="88.40" y="493.00" font-size="14.6" text-anchor="middle" fill="#000">(<tspan font-weight="bold">d</tspan>)</text>
<rect x="218.00" y="242.80" width="143.00" height="192.70" fill="none" stroke="#D9D9D9" stroke-width="1.2"/>
<text x="208.20" y="438.10" font-size="7.6" text-anchor="end" font-weight="normal" fill="#6f6f6f">0</text>
<text x="208.20" y="389.93" font-size="7.6" text-anchor="end" font-weight="normal" fill="#6f6f6f">40</text>
<line x1="218.00" y1="387.32" x2="220.00" y2="387.32" stroke="#D9D9D9" stroke-width="0.8"/>
<text x="208.20" y="341.75" font-size="7.6" text-anchor="end" font-weight="normal" fill="#6f6f6f">80</text>
<line x1="218.00" y1="339.15" x2="220.00" y2="339.15" stroke="#D9D9D9" stroke-width="0.8"/>
<text x="208.20" y="293.58" font-size="7.6" text-anchor="end" font-weight="normal" fill="#6f6f6f">120</text>
<line x1="218.00" y1="290.98" x2="220.00" y2="290.98" stroke="#D9D9D9" stroke-width="0.8"/>
<text x="208.20" y="245.40" font-size="7.6" text-anchor="end" font-weight="normal" fill="#6f6f6f">160</text>
<text x="229.92" y="450.40" font-size="8.6" text-anchor="middle" font-weight="normal" fill="#6f6f6f" textLength="8.5" lengthAdjust="spacingAndGlyphs">L1</text>
<rect x="223.11" y="432.49" width="6.81" height="3.01" fill="url(#gb)"/>
<rect x="229.92" y="434.54" width="6.81" height="0.96" fill="url(#gr)"/>
<line x1="226.51" y1="431.89" x2="226.51" y2="433.09" stroke="#262626" stroke-width="0.8"/>
<line x1="224.71" y1="431.89" x2="228.31" y2="431.89" stroke="#262626" stroke-width="0.8"/>
<line x1="224.71" y1="433.09" x2="228.31" y2="433.09" stroke="#262626" stroke-width="0.8"/>
<line x1="233.32" y1="434.30" x2="233.32" y2="434.78" stroke="#262626" stroke-width="0.8"/>
<line x1="231.52" y1="434.30" x2="235.12" y2="434.30" stroke="#262626" stroke-width="0.8"/>
<line x1="231.52" y1="434.78" x2="235.12" y2="434.78" stroke="#262626" stroke-width="0.8"/>
<circle cx="226.90" cy="424.90" r="1.15" fill="#1a1a1a"/>
<text x="253.75" y="450.40" font-size="8.6" text-anchor="middle" font-weight="normal" fill="#6f6f6f" textLength="8.5" lengthAdjust="spacingAndGlyphs">L2</text>
<line x1="241.83" y1="435.50" x2="241.83" y2="433.50" stroke="#D9D9D9" stroke-width="0.8"/>
<rect x="246.94" y="430.32" width="6.81" height="5.18" fill="url(#gb)"/>
<rect x="253.75" y="434.30" width="6.81" height="1.20" fill="url(#gr)"/>
<line x1="250.35" y1="429.60" x2="250.35" y2="431.04" stroke="#262626" stroke-width="0.8"/>
<line x1="248.55" y1="429.60" x2="252.15" y2="429.60" stroke="#262626" stroke-width="0.8"/>
<line x1="248.55" y1="431.04" x2="252.15" y2="431.04" stroke="#262626" stroke-width="0.8"/>
<line x1="257.15" y1="434.05" x2="257.15" y2="434.54" stroke="#262626" stroke-width="0.8"/>
<line x1="255.35" y1="434.05" x2="258.95" y2="434.05" stroke="#262626" stroke-width="0.8"/>
<line x1="255.35" y1="434.54" x2="258.95" y2="434.54" stroke="#262626" stroke-width="0.8"/>
<circle cx="250.30" cy="420.30" r="1.15" fill="#1a1a1a"/>
<text x="277.58" y="450.40" font-size="8.6" text-anchor="middle" font-weight="normal" fill="#6f6f6f" textLength="8.5" lengthAdjust="spacingAndGlyphs">L3</text>
<line x1="265.67" y1="435.50" x2="265.67" y2="433.50" stroke="#D9D9D9" stroke-width="0.8"/>
<rect x="270.77" y="422.49" width="6.81" height="13.01" fill="url(#gb)"/>
<rect x="277.58" y="431.89" width="6.81" height="3.61" fill="url(#gr)"/>
<line x1="274.18" y1="419.72" x2="274.18" y2="425.26" stroke="#262626" stroke-width="0.8"/>
<line x1="272.38" y1="419.72" x2="275.98" y2="419.72" stroke="#262626" stroke-width="0.8"/>
<line x1="272.38" y1="425.26" x2="275.98" y2="425.26" stroke="#262626" stroke-width="0.8"/>
<line x1="280.99" y1="431.28" x2="280.99" y2="432.49" stroke="#262626" stroke-width="0.8"/>
<line x1="279.19" y1="431.28" x2="282.79" y2="431.28" stroke="#262626" stroke-width="0.8"/>
<line x1="279.19" y1="432.49" x2="282.79" y2="432.49" stroke="#262626" stroke-width="0.8"/>
<circle cx="274.30" cy="410.50" r="1.15" fill="#1a1a1a"/>
<text x="301.42" y="450.40" font-size="8.6" text-anchor="middle" font-weight="normal" fill="#6f6f6f" textLength="8.5" lengthAdjust="spacingAndGlyphs">L4</text>
<line x1="289.50" y1="435.50" x2="289.50" y2="433.50" stroke="#D9D9D9" stroke-width="0.8"/>
<rect x="294.61" y="407.20" width="6.81" height="28.30" fill="url(#gb)"/>
<rect x="301.42" y="426.23" width="6.81" height="9.27" fill="url(#gr)"/>
<line x1="298.01" y1="403.22" x2="298.01" y2="411.17" stroke="#262626" stroke-width="0.8"/>
<line x1="296.21" y1="403.22" x2="299.81" y2="403.22" stroke="#262626" stroke-width="0.8"/>
<line x1="296.21" y1="411.17" x2="299.81" y2="411.17" stroke="#262626" stroke-width="0.8"/>
<line x1="304.82" y1="425.02" x2="304.82" y2="427.43" stroke="#262626" stroke-width="0.8"/>
<line x1="303.02" y1="425.02" x2="306.62" y2="425.02" stroke="#262626" stroke-width="0.8"/>
<line x1="303.02" y1="427.43" x2="306.62" y2="427.43" stroke="#262626" stroke-width="0.8"/>
<circle cx="298.20" cy="397.80" r="1.15" fill="#1a1a1a"/>
<text x="325.25" y="450.40" font-size="8.6" text-anchor="middle" font-weight="normal" fill="#6f6f6f" textLength="8.5" lengthAdjust="spacingAndGlyphs">L5</text>
<line x1="313.33" y1="435.50" x2="313.33" y2="433.50" stroke="#D9D9D9" stroke-width="0.8"/>
<rect x="318.44" y="356.73" width="6.81" height="78.77" fill="url(#gb)"/>
<rect x="325.25" y="377.33" width="6.81" height="58.17" fill="url(#gr)"/>
<line x1="321.85" y1="353.24" x2="321.85" y2="360.23" stroke="#262626" stroke-width="0.8"/>
<line x1="320.05" y1="353.24" x2="323.65" y2="353.24" stroke="#262626" stroke-width="0.8"/>
<line x1="320.05" y1="360.23" x2="323.65" y2="360.23" stroke="#262626" stroke-width="0.8"/>
<line x1="328.65" y1="368.18" x2="328.65" y2="386.48" stroke="#262626" stroke-width="0.8"/>
<line x1="326.85" y1="368.18" x2="330.45" y2="368.18" stroke="#262626" stroke-width="0.8"/>
<line x1="326.85" y1="386.48" x2="330.45" y2="386.48" stroke="#262626" stroke-width="0.8"/>
<circle cx="321.90" cy="344.30" r="1.15" fill="#1a1a1a"/>
<text x="349.08" y="450.40" font-size="8.6" text-anchor="middle" font-weight="normal" fill="#6f6f6f" textLength="8.5" lengthAdjust="spacingAndGlyphs">L6</text>
<line x1="337.17" y1="435.50" x2="337.17" y2="433.50" stroke="#D9D9D9" stroke-width="0.8"/>
<rect x="342.27" y="267.13" width="6.81" height="168.37" fill="url(#gb)"/>
<rect x="349.08" y="290.73" width="6.81" height="144.77" fill="url(#gr)"/>
<line x1="345.68" y1="263.88" x2="345.68" y2="270.38" stroke="#262626" stroke-width="0.8"/>
<line x1="343.88" y1="263.88" x2="347.48" y2="263.88" stroke="#262626" stroke-width="0.8"/>
<line x1="343.88" y1="270.38" x2="347.48" y2="270.38" stroke="#262626" stroke-width="0.8"/>
<line x1="352.49" y1="283.87" x2="352.49" y2="297.60" stroke="#262626" stroke-width="0.8"/>
<line x1="350.69" y1="283.87" x2="354.29" y2="283.87" stroke="#262626" stroke-width="0.8"/>
<line x1="350.69" y1="297.60" x2="354.29" y2="297.60" stroke="#262626" stroke-width="0.8"/>
<circle cx="346.00" cy="255.00" r="1.15" fill="#1a1a1a"/>
<text transform="translate(194.00,338.90) rotate(-90)" x="0" y="0" font-size="8.4" text-anchor="middle" font-weight="bold" fill="#1a1a1a" textLength="171" lengthAdjust="spacingAndGlyphs">Nitrate-N concertration after adsorption (mg/L)</text>
<text x="293.50" y="461.10" font-size="8.6" text-anchor="middle" font-weight="bold" fill="#1a1a1a" textLength="140.1" lengthAdjust="spacingAndGlyphs">Simulated agricultural waste-water of</text>
<text x="293.80" y="471.50" font-size="8.6" text-anchor="middle" font-weight="bold" fill="#1a1a1a" textLength="63.5" lengthAdjust="spacingAndGlyphs">six nitroegn level</text>
<rect x="224.60" y="250.20" width="4.4" height="4.4" fill="#4F81BD"/>
<rect x="224.60" y="261.80" width="4.4" height="4.4" fill="#C0504D"/>
<text x="231.30" y="255.30" font-size="8.75" text-anchor="start" font-weight="normal" fill="#2a2a2a" textLength="56.2" lengthAdjust="spacingAndGlyphs">Regular biochar</text>
<text x="231.30" y="266.90" font-size="8.75" text-anchor="start" font-weight="normal" fill="#2a2a2a" textLength="75.3" lengthAdjust="spacingAndGlyphs">Mg-modified biochar</text>
<text x="281.40" y="493.00" font-size="14.6" text-anchor="middle" fill="#000">(<tspan font-weight="bold">e</tspan>)</text>
<rect x="400.80" y="242.30" width="143.80" height="192.50" fill="none" stroke="#D9D9D9" stroke-width="1.2"/>
<text x="392.00" y="437.40" font-size="7.6" text-anchor="end" font-weight="normal" fill="#6f6f6f">0</text>
<text x="392.00" y="405.32" font-size="7.6" text-anchor="end" font-weight="normal" fill="#6f6f6f">50</text>
<line x1="400.80" y1="402.72" x2="402.80" y2="402.72" stroke="#D9D9D9" stroke-width="0.8"/>
<text x="392.00" y="373.23" font-size="7.6" text-anchor="end" font-weight="normal" fill="#6f6f6f">100</text>
<line x1="400.80" y1="370.63" x2="402.80" y2="370.63" stroke="#D9D9D9" stroke-width="0.8"/>
<text x="392.00" y="341.15" font-size="7.6" text-anchor="end" font-weight="normal" fill="#6f6f6f">150</text>
<line x1="400.80" y1="338.55" x2="402.80" y2="338.55" stroke="#D9D9D9" stroke-width="0.8"/>
<text x="392.00" y="309.07" font-size="7.6" text-anchor="end" font-weight="normal" fill="#6f6f6f">200</text>
<line x1="400.80" y1="306.47" x2="402.80" y2="306.47" stroke="#D9D9D9" stroke-width="0.8"/>
<text x="392.00" y="276.98" font-size="7.6" text-anchor="end" font-weight="normal" fill="#6f6f6f">250</text>
<line x1="400.80" y1="274.38" x2="402.80" y2="274.38" stroke="#D9D9D9" stroke-width="0.8"/>
<text x="392.00" y="244.90" font-size="7.6" text-anchor="end" font-weight="normal" fill="#6f6f6f">300</text>
<text x="412.78" y="450.40" font-size="8.6" text-anchor="middle" font-weight="normal" fill="#6f6f6f" textLength="8.5" lengthAdjust="spacingAndGlyphs">L1</text>
<rect x="405.94" y="433.32" width="6.85" height="1.48" fill="url(#gb)"/>
<rect x="412.78" y="433.84" width="6.85" height="0.96" fill="url(#gr)"/>
<line x1="409.36" y1="433.00" x2="409.36" y2="433.64" stroke="#262626" stroke-width="0.8"/>
<line x1="407.56" y1="433.00" x2="411.16" y2="433.00" stroke="#262626" stroke-width="0.8"/>
<line x1="407.56" y1="433.64" x2="411.16" y2="433.64" stroke="#262626" stroke-width="0.8"/>
<line x1="416.21" y1="433.58" x2="416.21" y2="434.09" stroke="#262626" stroke-width="0.8"/>
<line x1="414.41" y1="433.58" x2="418.01" y2="433.58" stroke="#262626" stroke-width="0.8"/>
<line x1="414.41" y1="434.09" x2="418.01" y2="434.09" stroke="#262626" stroke-width="0.8"/>
<text x="436.75" y="450.40" font-size="8.6" text-anchor="middle" font-weight="normal" fill="#6f6f6f" textLength="8.5" lengthAdjust="spacingAndGlyphs">L2</text>
<line x1="424.77" y1="434.80" x2="424.77" y2="432.80" stroke="#D9D9D9" stroke-width="0.8"/>
<rect x="429.90" y="431.27" width="6.85" height="3.53" fill="url(#gb)"/>
<rect x="436.75" y="432.68" width="6.85" height="2.12" fill="url(#gr)"/>
<line x1="433.33" y1="430.89" x2="433.33" y2="431.66" stroke="#262626" stroke-width="0.8"/>
<line x1="431.53" y1="430.89" x2="435.13" y2="430.89" stroke="#262626" stroke-width="0.8"/>
<line x1="431.53" y1="431.66" x2="435.13" y2="431.66" stroke="#262626" stroke-width="0.8"/>
<line x1="440.17" y1="432.36" x2="440.17" y2="433.00" stroke="#262626" stroke-width="0.8"/>
<line x1="438.37" y1="432.36" x2="441.97" y2="432.36" stroke="#262626" stroke-width="0.8"/>
<line x1="438.37" y1="433.00" x2="441.97" y2="433.00" stroke="#262626" stroke-width="0.8"/>
<text x="460.72" y="450.40" font-size="8.6" text-anchor="middle" font-weight="normal" fill="#6f6f6f" textLength="8.5" lengthAdjust="spacingAndGlyphs">L3</text>
<line x1="448.73" y1="434.80" x2="448.73" y2="432.80" stroke="#D9D9D9" stroke-width="0.8"/>
<rect x="453.87" y="424.92" width="6.85" height="9.88" fill="url(#gb)"/>
<rect x="460.72" y="426.33" width="6.85" height="8.47" fill="url(#gr)"/>
<line x1="457.29" y1="424.28" x2="457.29" y2="425.56" stroke="#262626" stroke-width="0.8"/>
<line x1="455.49" y1="424.28" x2="459.09" y2="424.28" stroke="#262626" stroke-width="0.8"/>
<line x1="455.49" y1="425.56" x2="459.09" y2="425.56" stroke="#262626" stroke-width="0.8"/>
<line x1="464.14" y1="425.82" x2="464.14" y2="426.84" stroke="#262626" stroke-width="0.8"/>
<line x1="462.34" y1="425.82" x2="465.94" y2="425.82" stroke="#262626" stroke-width="0.8"/>
<line x1="462.34" y1="426.84" x2="465.94" y2="426.84" stroke="#262626" stroke-width="0.8"/>
<text x="484.68" y="450.40" font-size="8.6" text-anchor="middle" font-weight="normal" fill="#6f6f6f" textLength="8.5" lengthAdjust="spacingAndGlyphs">L4</text>
<line x1="472.70" y1="434.80" x2="472.70" y2="432.80" stroke="#D9D9D9" stroke-width="0.8"/>
<rect x="477.84" y="411.64" width="6.85" height="23.16" fill="url(#gb)"/>
<rect x="484.68" y="410.80" width="6.85" height="24.00" fill="url(#gr)"/>
<line x1="481.26" y1="410.67" x2="481.26" y2="412.60" stroke="#262626" stroke-width="0.8"/>
<line x1="479.46" y1="410.67" x2="483.06" y2="410.67" stroke="#262626" stroke-width="0.8"/>
<line x1="479.46" y1="412.60" x2="483.06" y2="412.60" stroke="#262626" stroke-width="0.8"/>
<line x1="488.11" y1="410.03" x2="488.11" y2="411.57" stroke="#262626" stroke-width="0.8"/>
<line x1="486.31" y1="410.03" x2="489.91" y2="410.03" stroke="#262626" stroke-width="0.8"/>
<line x1="486.31" y1="411.57" x2="489.91" y2="411.57" stroke="#262626" stroke-width="0.8"/>
<text x="508.65" y="450.40" font-size="8.6" text-anchor="middle" font-weight="normal" fill="#6f6f6f" textLength="8.5" lengthAdjust="spacingAndGlyphs">L5</text>
<line x1="496.67" y1="434.80" x2="496.67" y2="432.80" stroke="#D9D9D9" stroke-width="0.8"/>
<rect x="501.80" y="365.76" width="6.85" height="69.04" fill="url(#gb)"/>
<rect x="508.65" y="365.50" width="6.85" height="69.30" fill="url(#gr)"/>
<line x1="505.23" y1="361.14" x2="505.23" y2="370.38" stroke="#262626" stroke-width="0.8"/>
<line x1="503.43" y1="361.14" x2="507.03" y2="361.14" stroke="#262626" stroke-width="0.8"/>
<line x1="503.43" y1="370.38" x2="507.03" y2="370.38" stroke="#262626" stroke-width="0.8"/>
<line x1="512.07" y1="358.70" x2="512.07" y2="372.30" stroke="#262626" stroke-width="0.8"/>
<line x1="510.27" y1="358.70" x2="513.87" y2="358.70" stroke="#262626" stroke-width="0.8"/>
<line x1="510.27" y1="372.30" x2="513.87" y2="372.30" stroke="#262626" stroke-width="0.8"/>
<text x="532.62" y="450.40" font-size="8.6" text-anchor="middle" font-weight="normal" fill="#6f6f6f" textLength="8.5" lengthAdjust="spacingAndGlyphs">L6</text>
<line x1="520.63" y1="434.80" x2="520.63" y2="432.80" stroke="#D9D9D9" stroke-width="0.8"/>
<rect x="525.77" y="282.47" width="6.85" height="152.33" fill="url(#gb)"/>
<rect x="532.62" y="285.48" width="6.85" height="149.32" fill="url(#gr)"/>
<line x1="529.19" y1="277.78" x2="529.19" y2="287.15" stroke="#262626" stroke-width="0.8"/>
<line x1="527.39" y1="277.78" x2="530.99" y2="277.78" stroke="#262626" stroke-width="0.8"/>
<line x1="527.39" y1="287.15" x2="530.99" y2="287.15" stroke="#262626" stroke-width="0.8"/>
<line x1="536.04" y1="280.29" x2="536.04" y2="290.68" stroke="#262626" stroke-width="0.8"/>
<line x1="534.24" y1="280.29" x2="537.84" y2="280.29" stroke="#262626" stroke-width="0.8"/>
<line x1="534.24" y1="290.68" x2="537.84" y2="290.68" stroke="#262626" stroke-width="0.8"/>
<text transform="translate(377.00,338.60) rotate(-90)" x="0" y="0" font-size="8.4" text-anchor="middle" font-weight="bold" fill="#1a1a1a" textLength="181" lengthAdjust="spacingAndGlyphs">Inorganic-N concertration after adsorption (mg/L)</text>
<text x="474.00" y="461.40" font-size="8.6" text-anchor="middle" font-weight="bold" fill="#1a1a1a" textLength="138.1" lengthAdjust="spacingAndGlyphs">Simulated agricultural waste-water of</text>
<text x="474.90" y="472.10" font-size="8.6" text-anchor="middle" font-weight="bold" fill="#1a1a1a" textLength="62.8" lengthAdjust="spacingAndGlyphs">six nitroegn level</text>
<rect x="407.00" y="246.50" width="4.4" height="4.4" fill="#4F81BD"/>
<rect x="407.00" y="260.90" width="4.4" height="4.4" fill="#C0504D"/>
<text x="413.60" y="251.60" font-size="8.75" text-anchor="start" font-weight="normal" fill="#2a2a2a" textLength="56.2" lengthAdjust="spacingAndGlyphs">Regular biochar</text>
<text x="413.60" y="266.00" font-size="8.75" text-anchor="start" font-weight="normal" fill="#2a2a2a" textLength="75.3" lengthAdjust="spacingAndGlyphs">Mg-modified biochar</text>
<text x="465.60" y="493.00" font-size="14.6" text-anchor="middle" fill="#000">(<tspan font-weight="bold">f</tspan>)</text>
</svg>
</body></html>
